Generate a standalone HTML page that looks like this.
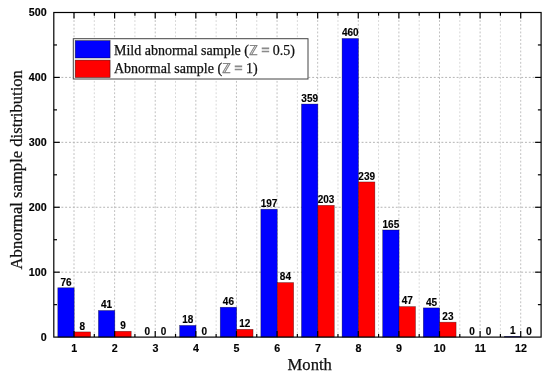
<!DOCTYPE html>
<html><head><meta charset="utf-8"><title>Abnormal sample distribution</title>
<style>html,body{margin:0;padding:0;background:#fff}svg{display:block}</style></head>
<body>
<svg width="550" height="376" viewBox="0 0 550 376">
<rect width="550" height="376" fill="#fff"/>
<g stroke-width="1" stroke-dasharray="1.9 1.9" fill="none">
<line x1="74.00" y1="12.5" x2="74.00" y2="337.1" stroke="#c0c0c0"/>
<line x1="94.31" y1="12.5" x2="94.31" y2="337.1" stroke="#d8d8d8"/>
<line x1="114.61" y1="12.5" x2="114.61" y2="337.1" stroke="#c0c0c0"/>
<line x1="134.91" y1="12.5" x2="134.91" y2="337.1" stroke="#d8d8d8"/>
<line x1="155.22" y1="12.5" x2="155.22" y2="337.1" stroke="#c0c0c0"/>
<line x1="175.53" y1="12.5" x2="175.53" y2="337.1" stroke="#d8d8d8"/>
<line x1="195.83" y1="12.5" x2="195.83" y2="337.1" stroke="#c0c0c0"/>
<line x1="216.13" y1="12.5" x2="216.13" y2="337.1" stroke="#d8d8d8"/>
<line x1="236.44" y1="12.5" x2="236.44" y2="337.1" stroke="#c0c0c0"/>
<line x1="256.75" y1="12.5" x2="256.75" y2="337.1" stroke="#d8d8d8"/>
<line x1="277.05" y1="12.5" x2="277.05" y2="337.1" stroke="#c0c0c0"/>
<line x1="297.36" y1="12.5" x2="297.36" y2="337.1" stroke="#d8d8d8"/>
<line x1="317.66" y1="12.5" x2="317.66" y2="337.1" stroke="#c0c0c0"/>
<line x1="337.96" y1="12.5" x2="337.96" y2="337.1" stroke="#d8d8d8"/>
<line x1="358.27" y1="12.5" x2="358.27" y2="337.1" stroke="#c0c0c0"/>
<line x1="378.57" y1="12.5" x2="378.57" y2="337.1" stroke="#d8d8d8"/>
<line x1="398.88" y1="12.5" x2="398.88" y2="337.1" stroke="#c0c0c0"/>
<line x1="419.19" y1="12.5" x2="419.19" y2="337.1" stroke="#d8d8d8"/>
<line x1="439.49" y1="12.5" x2="439.49" y2="337.1" stroke="#c0c0c0"/>
<line x1="459.80" y1="12.5" x2="459.80" y2="337.1" stroke="#d8d8d8"/>
<line x1="480.10" y1="12.5" x2="480.10" y2="337.1" stroke="#c0c0c0"/>
<line x1="500.40" y1="12.5" x2="500.40" y2="337.1" stroke="#d8d8d8"/>
<line x1="520.71" y1="12.5" x2="520.71" y2="337.1" stroke="#c0c0c0"/>
<line x1="53.8" y1="272.18" x2="541.1" y2="272.18" stroke="#b4b4b4"/>
<line x1="53.8" y1="207.26" x2="541.1" y2="207.26" stroke="#b4b4b4"/>
<line x1="53.8" y1="142.34" x2="541.1" y2="142.34" stroke="#b4b4b4"/>
<line x1="53.8" y1="77.42" x2="541.1" y2="77.42" stroke="#b4b4b4"/>
</g>
<g stroke="#000" stroke-opacity="0.5" stroke-width="0.6">
<rect x="57.80" y="287.76" width="16.4" height="49.34" fill="#0000ff"/>
<rect x="74.20" y="331.91" width="16.4" height="5.19" fill="#ff0000"/>
<rect x="98.41" y="310.48" width="16.4" height="26.62" fill="#0000ff"/>
<rect x="114.81" y="331.26" width="16.4" height="5.84" fill="#ff0000"/>
<rect x="179.63" y="325.41" width="16.4" height="11.69" fill="#0000ff"/>
<rect x="220.24" y="307.24" width="16.4" height="29.86" fill="#0000ff"/>
<rect x="236.64" y="329.31" width="16.4" height="7.79" fill="#ff0000"/>
<rect x="260.85" y="209.21" width="16.4" height="127.89" fill="#0000ff"/>
<rect x="277.25" y="282.57" width="16.4" height="54.53" fill="#ff0000"/>
<rect x="301.46" y="104.04" width="16.4" height="233.06" fill="#0000ff"/>
<rect x="317.86" y="205.31" width="16.4" height="131.79" fill="#ff0000"/>
<rect x="342.07" y="38.47" width="16.4" height="298.63" fill="#0000ff"/>
<rect x="358.47" y="181.94" width="16.4" height="155.16" fill="#ff0000"/>
<rect x="382.68" y="229.98" width="16.4" height="107.12" fill="#0000ff"/>
<rect x="399.08" y="306.59" width="16.4" height="30.51" fill="#ff0000"/>
<rect x="423.29" y="307.89" width="16.4" height="29.21" fill="#0000ff"/>
<rect x="439.69" y="322.17" width="16.4" height="14.93" fill="#ff0000"/>
<rect x="504.51" y="336.45" width="16.4" height="0.65" fill="#0000ff"/>
</g>
<g stroke="#000" stroke-width="1.2" fill="none">
<rect x="53.8" y="12.5" width="487.30" height="324.60"/>
<line x1="74.00" y1="12.5" x2="74.00" y2="18.50"/>
<line x1="74.00" y1="337.1" x2="74.00" y2="331.10"/>
<line x1="94.31" y1="12.5" x2="94.31" y2="15.70"/>
<line x1="94.31" y1="337.1" x2="94.31" y2="333.90"/>
<line x1="114.61" y1="12.5" x2="114.61" y2="18.50"/>
<line x1="114.61" y1="337.1" x2="114.61" y2="331.10"/>
<line x1="134.91" y1="12.5" x2="134.91" y2="15.70"/>
<line x1="134.91" y1="337.1" x2="134.91" y2="333.90"/>
<line x1="155.22" y1="12.5" x2="155.22" y2="18.50"/>
<line x1="155.22" y1="337.1" x2="155.22" y2="331.10"/>
<line x1="175.53" y1="12.5" x2="175.53" y2="15.70"/>
<line x1="175.53" y1="337.1" x2="175.53" y2="333.90"/>
<line x1="195.83" y1="12.5" x2="195.83" y2="18.50"/>
<line x1="195.83" y1="337.1" x2="195.83" y2="331.10"/>
<line x1="216.13" y1="12.5" x2="216.13" y2="15.70"/>
<line x1="216.13" y1="337.1" x2="216.13" y2="333.90"/>
<line x1="236.44" y1="12.5" x2="236.44" y2="18.50"/>
<line x1="236.44" y1="337.1" x2="236.44" y2="331.10"/>
<line x1="256.75" y1="12.5" x2="256.75" y2="15.70"/>
<line x1="256.75" y1="337.1" x2="256.75" y2="333.90"/>
<line x1="277.05" y1="12.5" x2="277.05" y2="18.50"/>
<line x1="277.05" y1="337.1" x2="277.05" y2="331.10"/>
<line x1="297.36" y1="12.5" x2="297.36" y2="15.70"/>
<line x1="297.36" y1="337.1" x2="297.36" y2="333.90"/>
<line x1="317.66" y1="12.5" x2="317.66" y2="18.50"/>
<line x1="317.66" y1="337.1" x2="317.66" y2="331.10"/>
<line x1="337.96" y1="12.5" x2="337.96" y2="15.70"/>
<line x1="337.96" y1="337.1" x2="337.96" y2="333.90"/>
<line x1="358.27" y1="12.5" x2="358.27" y2="18.50"/>
<line x1="358.27" y1="337.1" x2="358.27" y2="331.10"/>
<line x1="378.57" y1="12.5" x2="378.57" y2="15.70"/>
<line x1="378.57" y1="337.1" x2="378.57" y2="333.90"/>
<line x1="398.88" y1="12.5" x2="398.88" y2="18.50"/>
<line x1="398.88" y1="337.1" x2="398.88" y2="331.10"/>
<line x1="419.19" y1="12.5" x2="419.19" y2="15.70"/>
<line x1="419.19" y1="337.1" x2="419.19" y2="333.90"/>
<line x1="439.49" y1="12.5" x2="439.49" y2="18.50"/>
<line x1="439.49" y1="337.1" x2="439.49" y2="331.10"/>
<line x1="459.80" y1="12.5" x2="459.80" y2="15.70"/>
<line x1="459.80" y1="337.1" x2="459.80" y2="333.90"/>
<line x1="480.10" y1="12.5" x2="480.10" y2="18.50"/>
<line x1="480.10" y1="337.1" x2="480.10" y2="331.10"/>
<line x1="500.40" y1="12.5" x2="500.40" y2="15.70"/>
<line x1="500.40" y1="337.1" x2="500.40" y2="333.90"/>
<line x1="520.71" y1="12.5" x2="520.71" y2="18.50"/>
<line x1="520.71" y1="337.1" x2="520.71" y2="331.10"/>
<line x1="53.8" y1="304.64" x2="57.00" y2="304.64"/>
<line x1="541.1" y1="304.64" x2="537.90" y2="304.64"/>
<line x1="53.8" y1="272.18" x2="59.80" y2="272.18"/>
<line x1="541.1" y1="272.18" x2="535.10" y2="272.18"/>
<line x1="53.8" y1="239.72" x2="57.00" y2="239.72"/>
<line x1="541.1" y1="239.72" x2="537.90" y2="239.72"/>
<line x1="53.8" y1="207.26" x2="59.80" y2="207.26"/>
<line x1="541.1" y1="207.26" x2="535.10" y2="207.26"/>
<line x1="53.8" y1="174.80" x2="57.00" y2="174.80"/>
<line x1="541.1" y1="174.80" x2="537.90" y2="174.80"/>
<line x1="53.8" y1="142.34" x2="59.80" y2="142.34"/>
<line x1="541.1" y1="142.34" x2="535.10" y2="142.34"/>
<line x1="53.8" y1="109.88" x2="57.00" y2="109.88"/>
<line x1="541.1" y1="109.88" x2="537.90" y2="109.88"/>
<line x1="53.8" y1="77.42" x2="59.80" y2="77.42"/>
<line x1="541.1" y1="77.42" x2="535.10" y2="77.42"/>
<line x1="53.8" y1="44.96" x2="57.00" y2="44.96"/>
<line x1="541.1" y1="44.96" x2="537.90" y2="44.96"/>
</g>
<g font-family="'Liberation Sans', Arial, sans-serif" font-weight="bold" font-size="10.7" fill="#000" stroke="#000" stroke-width="0.15">
<text x="46.6" y="340.5" text-anchor="end">0</text>
<text x="46.6" y="275.6" text-anchor="end">100</text>
<text x="46.6" y="210.7" text-anchor="end">200</text>
<text x="46.6" y="145.7" text-anchor="end">300</text>
<text x="46.6" y="80.8" text-anchor="end">400</text>
<text x="46.6" y="15.9" text-anchor="end">500</text>
<text x="74.2" y="351.5" text-anchor="middle">1</text>
<text x="114.8" y="351.5" text-anchor="middle">2</text>
<text x="155.4" y="351.5" text-anchor="middle">3</text>
<text x="196.0" y="351.5" text-anchor="middle">4</text>
<text x="236.6" y="351.5" text-anchor="middle">5</text>
<text x="277.2" y="351.5" text-anchor="middle">6</text>
<text x="317.9" y="351.5" text-anchor="middle">7</text>
<text x="358.5" y="351.5" text-anchor="middle">8</text>
<text x="399.1" y="351.5" text-anchor="middle">9</text>
<text x="439.7" y="351.5" text-anchor="middle">10</text>
<text x="480.3" y="351.5" text-anchor="middle">11</text>
<text x="520.9" y="351.5" text-anchor="middle">12</text>
</g>
<g font-family="'Liberation Sans', Arial, sans-serif" font-weight="bold" font-size="10" fill="#000" stroke="#000" stroke-width="0.15" text-anchor="middle">
<text x="66.0" y="285.6">76</text>
<text x="82.4" y="329.7">8</text>
<text x="106.6" y="308.3">41</text>
<text x="123.0" y="329.1">9</text>
<text x="147.2" y="334.9">0</text>
<text x="163.6" y="334.9">0</text>
<text x="187.8" y="323.2">18</text>
<text x="204.2" y="334.9">0</text>
<text x="228.4" y="305.0">46</text>
<text x="244.8" y="327.1">12</text>
<text x="269.1" y="207.0">197</text>
<text x="285.4" y="280.4">84</text>
<text x="309.7" y="101.8">359</text>
<text x="326.1" y="203.1">203</text>
<text x="350.3" y="36.3">460</text>
<text x="366.7" y="179.7">239</text>
<text x="390.9" y="227.8">165</text>
<text x="407.3" y="304.4">47</text>
<text x="431.5" y="305.7">45</text>
<text x="447.9" y="320.0">23</text>
<text x="472.1" y="334.9">0</text>
<text x="488.5" y="334.9">0</text>
<text x="512.7" y="334.3">1</text>
<text x="529.1" y="334.9">0</text>
</g>
<rect x="73.3" y="38.7" width="234.7" height="40.3" fill="#fff" stroke="#444" stroke-width="1"/>
<rect x="75.2" y="40.6" width="34.9" height="17.4" fill="#0000ff" stroke="#000" stroke-opacity="0.6" stroke-width="0.7"/>
<rect x="75.2" y="60.1" width="34.9" height="17.4" fill="#ff0000" stroke="#000" stroke-opacity="0.6" stroke-width="0.7"/>
<g font-family="'Liberation Serif', 'Times New Roman', serif" font-size="14" fill="#111" stroke="#111" stroke-width="0.25">
<text x="114" y="54.5">Mild abnormal sample (<tspan fill="#7a7a7a" stroke="#7a7a7a">ℤ </tspan><tspan fill="#8a8a8a" stroke="#8a8a8a" stroke-width="0.9">=</tspan> 0.5)</text>
<text x="114" y="73.2">Abnormal sample (<tspan fill="#7a7a7a" stroke="#7a7a7a">ℤ </tspan><tspan fill="#8a8a8a" stroke="#8a8a8a" stroke-width="0.9">=</tspan> 1)</text>
</g>
<g font-family="'Liberation Serif', 'Times New Roman', serif" font-size="16.63" fill="#111" stroke="#111" stroke-width="0.25">
<text x="287.6" y="370.4">Month</text>
<text transform="translate(21.8,269.4) rotate(-90)">Abnormal sample distribution</text>
</g>
</svg>
</body></html>
